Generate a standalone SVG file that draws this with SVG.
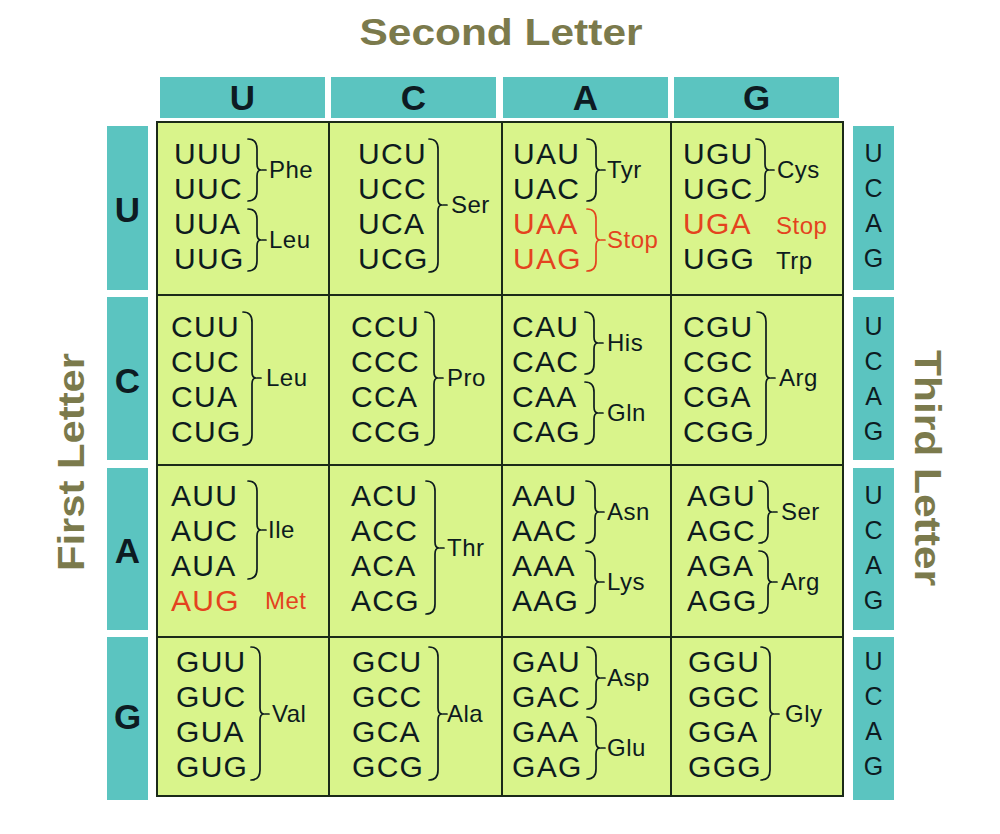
<svg xmlns="http://www.w3.org/2000/svg" width="1000" height="834" viewBox="0 0 1000 834">
<style>
.tab{fill:#5bc4c0}
.hd{font-family:"Liberation Sans",Arial,sans-serif;font-weight:bold;font-size:35px;fill:#0d1b22;text-anchor:middle}
.rt{font-family:"Liberation Sans",Arial,sans-serif;font-size:25px;fill:#0d1b22;text-anchor:middle}
.ttl{font-family:"Liberation Sans",Arial,sans-serif;font-weight:bold;font-size:37px;fill:#7b7a4c;text-anchor:middle}
.cd{font-family:"Liberation Sans",Arial,sans-serif;font-size:30px;fill:#0d1b1e;letter-spacing:1.3px}
.aa{font-family:"Liberation Sans",Arial,sans-serif;font-size:24px;fill:#0d1b1e;letter-spacing:0.5px}
.red{fill:#e4431e}
.br{fill:none;stroke:#0d1b1e;stroke-width:1.7;stroke-linecap:round;stroke-linejoin:round}
.brr{fill:none;stroke:#e4431e;stroke-width:1.7;stroke-linecap:round;stroke-linejoin:round}
.grid{fill:none;stroke:#1b2a18;stroke-width:2}
</style>
<rect width="1000" height="834" fill="#ffffff"/>
<g id="title-second"><text class="ttl" x="501" y="45" textLength="283" lengthAdjust="spacingAndGlyphs">Second Letter</text></g>
<g id="title-first"><text class="ttl" transform="translate(84,462) rotate(-90)" x="0" y="0" textLength="218" lengthAdjust="spacingAndGlyphs">First Letter</text></g>
<g id="title-third"><text class="ttl" transform="translate(915,468) rotate(90)" x="0" y="0" textLength="236" lengthAdjust="spacingAndGlyphs">Third Letter</text></g>

<g id="header-U"><rect class="tab" x="160" y="77" width="165" height="41"/><text class="hd" x="242.5" y="110">U</text></g>
<g id="header-C"><rect class="tab" x="331" y="77" width="165" height="41"/><text class="hd" x="413.5" y="110">C</text></g>
<g id="header-A"><rect class="tab" x="503" y="77" width="165" height="41"/><text class="hd" x="585.5" y="110">A</text></g>
<g id="header-G"><rect class="tab" x="674" y="77" width="165" height="41"/><text class="hd" x="756.5" y="110">G</text></g>

<g id="first-U"><rect class="tab" x="107" y="126" width="41" height="164"/><text class="hd" x="127.5" y="222">U</text></g>
<g id="first-C"><rect class="tab" x="107" y="297" width="41" height="163"/><text class="hd" x="127.5" y="393">C</text></g>
<g id="first-A"><rect class="tab" x="107" y="468" width="41" height="162"/><text class="hd" x="127.5" y="563">A</text></g>
<g id="first-G"><rect class="tab" x="107" y="637" width="41" height="163"/><text class="hd" x="127.5" y="729">G</text></g>

<g id="third-1"><rect class="tab" x="853" y="126" width="41" height="164"/><text class="rt" x="873.5" y="162">U</text><text class="rt" x="873.5" y="197">C</text><text class="rt" x="873.5" y="232">A</text><text class="rt" x="873.5" y="267">G</text></g>
<g id="third-2"><rect class="tab" x="853" y="297" width="41" height="163"/><text class="rt" x="873.5" y="335">U</text><text class="rt" x="873.5" y="370">C</text><text class="rt" x="873.5" y="405">A</text><text class="rt" x="873.5" y="440">G</text></g>
<g id="third-3"><rect class="tab" x="853" y="468" width="41" height="162"/><text class="rt" x="873.5" y="504">U</text><text class="rt" x="873.5" y="539">C</text><text class="rt" x="873.5" y="574">A</text><text class="rt" x="873.5" y="609">G</text></g>
<g id="third-4"><rect class="tab" x="853" y="637" width="41" height="163"/><text class="rt" x="873.5" y="670">U</text><text class="rt" x="873.5" y="705">C</text><text class="rt" x="873.5" y="740">A</text><text class="rt" x="873.5" y="775">G</text></g>

<g id="grid">
<rect x="157" y="122" width="686" height="674" fill="#d9f48b"/>
<rect class="grid" x="157" y="122" width="686" height="674"/>
<path class="grid" d="M329 122V796M502 122V796M671 122V796M157 295H843M157 465H843M157 637H843"/>
</g>

<g id="connectors">
<path class="br" d="M248 139Q257 139 257 149V164Q257 170 261 170Q257 170 257 176V191Q257 201 248 201M262 170h4"/>
<path class="br" d="M248 209Q257 209 257 219V234Q257 240 261 240Q257 240 257 246V261Q257 271 248 271M262 240h4"/>
<path class="br" d="M429 139Q438 139 438 149V199Q438 205 442 205Q438 205 438 211V262Q438 272 429 272M443 205h4"/>
<path class="br" d="M587 139Q596 139 596 149V164Q596 170 600 170Q596 170 596 176V191Q596 201 587 201M601 170h4"/>
<path class="brr" d="M587 209Q596 209 596 219V234Q596 240 600 240Q596 240 596 246V261Q596 271 587 271M601 240h4"/>
<path class="br" d="M756 139Q765 139 765 149V164Q765 170 769 170Q765 170 765 176V191Q765 201 756 201M770 170h4"/>

<path class="br" d="M243 312Q252 312 252 322V372Q252 378 256 378Q252 378 252 384V435Q252 445 243 445M257 378h4"/>
<path class="br" d="M425 312Q434 312 434 322V372Q434 378 438 378Q434 378 434 384V435Q434 445 425 445M439 378h4"/>
<path class="br" d="M585 312Q594 312 594 322V337Q594 343 598 343Q594 343 594 349V364Q594 374 585 374M599 343h4"/>
<path class="br" d="M585 382Q594 382 594 392V407Q594 413 598 413Q594 413 594 419V434Q594 444 585 444M599 413h4"/>
<path class="br" d="M757 312Q766 312 766 322V372Q766 378 770 378Q766 378 766 384V435Q766 445 757 445M771 378h4"/>

<path class="br" d="M248 481Q257 481 257 491V524Q257 530 261 530Q257 530 257 536V569Q257 579 248 579M262 530h4"/>
<path class="br" d="M426 481Q435 481 435 491V542Q435 548 439 548Q435 548 435 554V604Q435 614 426 614M440 548h4"/>
<path class="br" d="M586 481Q595 481 595 491V506Q595 512 599 512Q595 512 595 518V533Q595 543 586 543M600 512h4"/>
<path class="br" d="M586 551Q595 551 595 561V576Q595 582 599 582Q595 582 595 588V603Q595 613 586 613M600 582h4"/>
<path class="br" d="M759 481Q768 481 768 491V506Q768 512 772 512Q768 512 768 518V533Q768 543 759 543M773 512h4"/>
<path class="br" d="M759 551Q768 551 768 561V576Q768 582 772 582Q768 582 768 588V603Q768 613 759 613M773 582h4"/>

<path class="br" d="M251 647Q260 647 260 657V708Q260 714 264 714Q260 714 260 720V770Q260 780 251 780M265 714h4"/>
<path class="br" d="M429 647Q438 647 438 657V708Q438 714 442 714Q438 714 438 720V770Q438 780 429 780M443 714h4"/>
<path class="br" d="M587 647Q596 647 596 657V672Q596 678 600 678Q596 678 596 684V699Q596 709 587 709M601 678h4"/>
<path class="br" d="M587 717Q596 717 596 727V742Q596 748 600 748Q596 748 596 754V769Q596 779 587 779M601 748h4"/>
<path class="br" d="M761 647Q770 647 770 657V708Q770 714 774 714Q770 714 770 720V770Q770 780 761 780M775 714h4"/>
</g>

<g id="cell-UU"><text class="cd" x="174" y="164">UUU</text><text class="cd" x="174" y="199">UUC</text><text class="cd" x="174" y="234">UUA</text><text class="cd" x="174" y="269">UUG</text><text class="aa" x="269" y="178">Phe</text><text class="aa" x="269" y="248">Leu</text></g>
<g id="cell-UC"><text class="cd" x="358" y="164">UCU</text><text class="cd" x="358" y="199">UCC</text><text class="cd" x="358" y="234">UCA</text><text class="cd" x="358" y="269">UCG</text><text class="aa" x="451" y="213">Ser</text></g>
<g id="cell-UA"><text class="cd" x="513" y="164">UAU</text><text class="cd" x="513" y="199">UAC</text><text class="cd red" x="513" y="234">UAA</text><text class="cd red" x="513" y="269">UAG</text><text class="aa" x="607" y="178">Tyr</text><text class="aa red" x="607" y="248">Stop</text></g>
<g id="cell-UG"><text class="cd" x="683" y="164">UGU</text><text class="cd" x="683" y="199">UGC</text><text class="cd red" x="683" y="234">UGA</text><text class="cd" x="683" y="269">UGG</text><text class="aa" x="777" y="178">Cys</text><text class="aa red" x="776" y="234">Stop</text><text class="aa" x="776" y="269">Trp</text></g>

<g id="cell-CU"><text class="cd" x="171" y="337">CUU</text><text class="cd" x="171" y="372">CUC</text><text class="cd" x="171" y="407">CUA</text><text class="cd" x="171" y="442">CUG</text><text class="aa" x="266" y="386">Leu</text></g>
<g id="cell-CC"><text class="cd" x="351" y="337">CCU</text><text class="cd" x="351" y="372">CCC</text><text class="cd" x="351" y="407">CCA</text><text class="cd" x="351" y="442">CCG</text><text class="aa" x="447" y="386">Pro</text></g>
<g id="cell-CA"><text class="cd" x="512" y="337">CAU</text><text class="cd" x="512" y="372">CAC</text><text class="cd" x="512" y="407">CAA</text><text class="cd" x="512" y="442">CAG</text><text class="aa" x="607" y="351">His</text><text class="aa" x="607" y="421">Gln</text></g>
<g id="cell-CG"><text class="cd" x="683" y="337">CGU</text><text class="cd" x="683" y="372">CGC</text><text class="cd" x="683" y="407">CGA</text><text class="cd" x="683" y="442">CGG</text><text class="aa" x="779" y="386">Arg</text></g>

<g id="cell-AU"><text class="cd" x="171" y="506">AUU</text><text class="cd" x="171" y="541">AUC</text><text class="cd" x="171" y="576">AUA</text><text class="cd red" x="171" y="611">AUG</text><text class="aa" x="268" y="538">Ile</text><text class="aa red" x="265" y="609">Met</text></g>
<g id="cell-AC"><text class="cd" x="351" y="506">ACU</text><text class="cd" x="351" y="541">ACC</text><text class="cd" x="351" y="576">ACA</text><text class="cd" x="351" y="611">ACG</text><text class="aa" x="447" y="556">Thr</text></g>
<g id="cell-AA"><text class="cd" x="512" y="506">AAU</text><text class="cd" x="512" y="541">AAC</text><text class="cd" x="512" y="576">AAA</text><text class="cd" x="512" y="611">AAG</text><text class="aa" x="607" y="520">Asn</text><text class="aa" x="607" y="590">Lys</text></g>
<g id="cell-AG"><text class="cd" x="687" y="506">AGU</text><text class="cd" x="687" y="541">AGC</text><text class="cd" x="687" y="576">AGA</text><text class="cd" x="687" y="611">AGG</text><text class="aa" x="781" y="520">Ser</text><text class="aa" x="781" y="590">Arg</text></g>

<g id="cell-GU"><text class="cd" x="176" y="672">GUU</text><text class="cd" x="176" y="707">GUC</text><text class="cd" x="176" y="742">GUA</text><text class="cd" x="176" y="777">GUG</text><text class="aa" x="272" y="722">Val</text></g>
<g id="cell-GC"><text class="cd" x="352" y="672">GCU</text><text class="cd" x="352" y="707">GCC</text><text class="cd" x="352" y="742">GCA</text><text class="cd" x="352" y="777">GCG</text><text class="aa" x="447" y="722">Ala</text></g>
<g id="cell-GA"><text class="cd" x="512" y="672">GAU</text><text class="cd" x="512" y="707">GAC</text><text class="cd" x="512" y="742">GAA</text><text class="cd" x="512" y="777">GAG</text><text class="aa" x="607" y="686">Asp</text><text class="aa" x="607" y="756">Glu</text></g>
<g id="cell-GG"><text class="cd" x="688" y="672">GGU</text><text class="cd" x="688" y="707">GGC</text><text class="cd" x="688" y="742">GGA</text><text class="cd" x="688" y="777">GGG</text><text class="aa" x="785" y="722">Gly</text></g>
</svg>
